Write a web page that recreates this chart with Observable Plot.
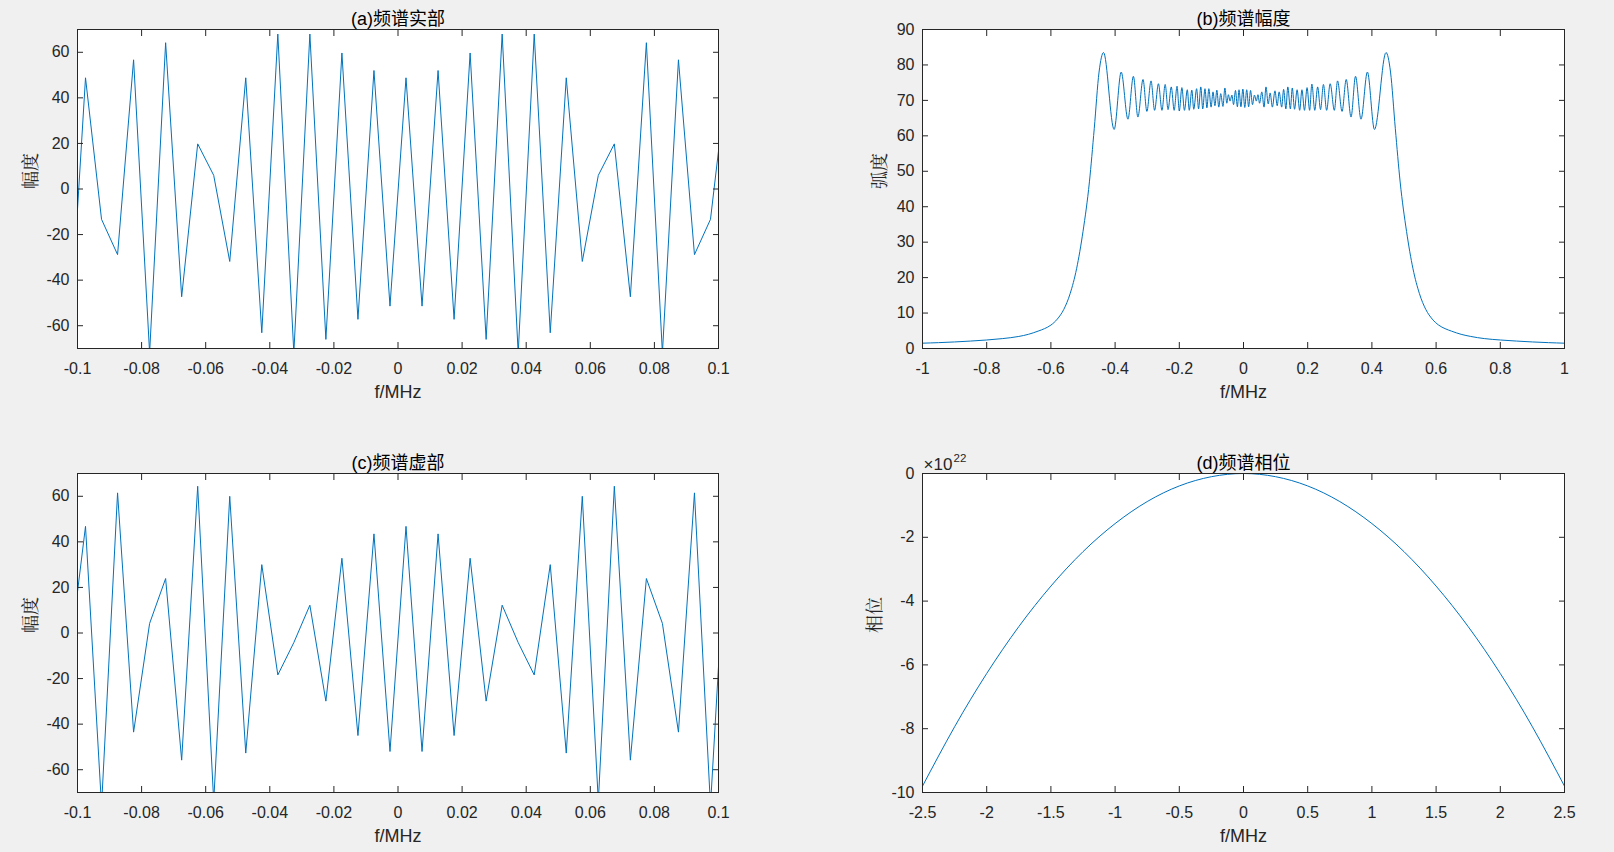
<!DOCTYPE html>
<html>
<head>
<meta charset="utf-8">
<script src="https://cdn.jsdelivr.net/npm/d3@7"></script>
<script src="https://cdn.jsdelivr.net/npm/@observablehq/plot@0.6"></script>
<style>
  html, body { margin: 0; padding: 0; background: #f0f0f0; }
  #fig { position: relative; width: 1614px; height: 852px; background: #f0f0f0; overflow: hidden; }
</style>
</head>
<body>
<div id="fig"></div>
<script>
// ---------- data ----------
// (a) real part and (c) imaginary part: sample frequencies (MHz)
const sampleFreq = [-0.1025, -0.0975, -0.0925, -0.0875, -0.0825, -0.0775, -0.0725, -0.0675, -0.0625, -0.0575,
  -0.0525, -0.0475, -0.0425, -0.0375, -0.0325, -0.0275, -0.0225, -0.0175, -0.0125, -0.0075, -0.0025,
  0.0025, 0.0075, 0.0125, 0.0175, 0.0225, 0.0275, 0.0325, 0.0375, 0.0425, 0.0475, 0.0525,
  0.0575, 0.0625, 0.0675, 0.0725, 0.0775, 0.0825, 0.0875, 0.0925, 0.0975, 0.1025];
const realPart = [-66.6, 48.8, -13.3, -28.8, 56.7, -72, 64.2, -47.3, 19.8, 6.0,
  -31.8, 48.8, -63.1, 68.0, -72, 68.0, -66.0, 59.7, -57.2, 52.0, -51.4,
  48.8, -51.4, 52.0, -57.2, 59.7, -66.0, 68.0, -72, 68.0, -63.1, 48.8,
  -31.8, 6.0, 19.8, -47.3, 64.2, -72, 56.7, -28.8, -13.3, 46.7];
const imagPart = [-10.6, 46.8, -76, 61.5, -43.5, 4.2, 23.9, -55.8, 64.4, -74,
  60.0, -52.7, 30.0, -18.4, -4.2, 12.2, -29.9, 32.8, -45.0, 43.5, -52.0,
  46.8, -52.0, 43.5, -45.0, 32.8, -29.9, 12.2, -4.2, -18.4, 30.0, -52.7,
  60.0, -74, 64.4, -55.8, 23.9, 4.2, -43.5, 61.5, -76, 46.8];

// (b) magnitude: frequencies (MHz) and values read along the tails and at the ripple extremes
const magFreq = [-1, -0.95, -0.9, -0.85, -0.8, -0.75, -0.7, -0.67, -0.64, -0.62, -0.6, -0.58, -0.56, -0.54,
  -0.52, -0.5, -0.48, -0.465, -0.45, -0.436,
  -0.403, -0.381, -0.360, -0.343, -0.329, -0.313, -0.301, -0.288, -0.277, -0.265, -0.254, -0.244, -0.235,
  -0.225, -0.216, -0.207, -0.200, -0.192, -0.184, -0.175, -0.169, -0.161, -0.155, -0.146, -0.140, -0.133,
  -0.127, -0.120, -0.114, -0.108, -0.101, -0.095, -0.089, -0.083, -0.077, -0.071, -0.064, -0.058, -0.052,
  -0.047, -0.042, -0.036, -0.031, -0.025, -0.019, -0.014, -0.008, -0.002, 0.004, 0.010, 0.016, 0.022,
  0.028, 0.034, 0.040, 0.045, 0.050, 0.057, 0.064, 0.070, 0.077, 0.083, 0.090, 0.098, 0.105, 0.111,
  0.119, 0.125, 0.132, 0.138, 0.146, 0.152, 0.159, 0.167, 0.175, 0.182, 0.190, 0.198, 0.206, 0.213,
  0.222, 0.231, 0.240, 0.249, 0.259, 0.270, 0.283, 0.293, 0.307, 0.320, 0.335, 0.349, 0.366, 0.386,
  0.408, 0.444, 0.458, 0.473, 0.488, 0.508, 0.528, 0.548, 0.568, 0.588, 0.608, 0.628, 0.648, 0.678,
  0.708, 0.75, 0.8, 0.85, 0.9, 0.95, 1];
const magValue = [1.5, 1.65, 1.85, 2.1, 2.4, 2.8, 3.4, 4.0, 4.9, 5.6, 6.6, 8.3, 11.0, 15.5,
  22.5, 33.0, 47.0, 62.0, 78.0, 83.5,
  61.8, 78.0, 64.7, 76.8, 65.3, 75.9, 66.9, 75.5, 67.2, 74.7, 67.2, 74.5, 67.4,
  73.8, 67.2, 74.0, 67.0, 73.6, 67.2, 73.0, 67.2, 72.9, 67.5, 73.3, 67.6, 73.8,
  67.6, 73.3, 67.9, 73.3, 68.1, 72.4, 68.5, 72.9, 68.1, 71.9, 68.3, 73.5, 69.2,
  71.6, 69.8, 71.5, 68.8, 72.8, 68.2, 73.0, 68.2, 73.2, 68.0, 73.0, 68.2, 72.8,
  68.8, 71.5, 69.8, 71.6, 69.2, 72.4, 68.1, 73.8, 69.0, 72.1, 68.1, 72.7, 68.5, 72.4,
  68.1, 73.1, 67.6, 73.8, 67.6, 73.5, 67.5, 73.0, 67.2, 73.0, 67.2, 73.6, 67.2, 74.6,
  67.2, 73.8, 67.4, 74.5, 67.2, 74.7, 67.2, 75.5, 66.9, 75.9, 65.3, 76.8, 64.7, 78.0,
  61.8, 83.5, 78.0, 62.0, 47.0, 33.0, 22.5, 15.5, 11.0, 8.3, 6.6, 5.6, 4.9, 4.0,
  3.4, 2.8, 2.4, 2.1, 1.85, 1.65, 1.5];

// (d) phase, in units of 1e22
const phaseFreq = [-2.5, -2.25, -2, -1.75, -1.5, -1.25, -1, -0.75, -0.5, -0.25, 0,
  0.25, 0.5, 0.75, 1, 1.25, 1.5, 1.75, 2, 2.25, 2.5];
const phaseE22 = [-9.8, -7.94, -6.27, -4.80, -3.53, -2.45, -1.57, -0.88, -0.39, -0.10, 0,
  -0.10, -0.39, -0.88, -1.57, -2.45, -3.53, -4.80, -6.27, -7.94, -9.8];

// tick values
const ticksNarrowX = [-0.1, -0.08, -0.06, -0.04, -0.02, 0, 0.02, 0.04, 0.06, 0.08, 0.1];
const ticksAmpY = [-60, -40, -20, 0, 20, 40, 60];
const ticksMagX = [-1, -0.8, -0.6, -0.4, -0.2, 0, 0.2, 0.4, 0.6, 0.8, 1];
const ticksMagY = [0, 10, 20, 30, 40, 50, 60, 70, 80, 90];
const ticksPhaseX = [-2.5, -2, -1.5, -1, -0.5, 0, 0.5, 1, 1.5, 2, 2.5];
const ticksPhaseY = [-10, -8, -6, -4, -2, 0];

const titles = ["(a)频谱实部", "(b)频谱幅度", "(c)频谱虚部", "(d)频谱相位"];
const yLabels = ["幅度", "弧度", "幅度", "相位"];
const xLabel = "f/MHz";

// ---------- drawing ----------
const BLUE = "#0072BD";
const DARK = "#262626";
const LATIN = "'Liberation Sans', Arial, Helvetica, sans-serif";
const MIXED = "'Liberation Sans', Arial, 'Noto Sans CJK SC', sans-serif";
const CJK = "'Noto Serif CJK SC', 'Noto Sans CJK SC', serif";
const fmt = d => String(+(+d).toFixed(6));
const zip = (xs, ys) => xs.map((x, i) => ({x, y: ys[i]}));

function panel({left, top, width, height, mL, mT, mR, mB, xDomain, yDomain, xTicks, yTicks,
                data, curve, title, ylabel, ylabelDx, extra = []}) {
  return Plot.plot({
    width, height,
    marginLeft: mL, marginTop: mT, marginRight: mR, marginBottom: mB,
    x: {domain: xDomain},
    y: {domain: yDomain},
    style: {position: "absolute", left: left + "px", top: top + "px",
            background: "transparent", overflow: "visible", color: DARK,
            fontFamily: LATIN, fontSize: "16px"},
    marks: [
      Plot.frame({fill: "white", stroke: null}),
      Plot.line(data, {x: "x", y: "y", stroke: BLUE, strokeWidth: 1, curve, clip: true}),
      Plot.frame({stroke: DARK, strokeWidth: 1}),
      Plot.axisX(xTicks, {anchor: "bottom", tickSize: -6, fill: null, stroke: DARK, label: null}),
      Plot.axisX(xTicks, {anchor: "top", tickSize: -6, fill: null, stroke: DARK, label: null}),
      Plot.axisY(yTicks, {anchor: "left", tickSize: -6, fill: null, stroke: DARK, label: null}),
      Plot.axisY(yTicks, {anchor: "right", tickSize: -6, fill: null, stroke: DARK, label: null}),
      Plot.axisX(xTicks, {anchor: "bottom", tickSize: 0, tickPadding: 14.5, tickFormat: fmt,
                          fill: DARK, fontSize: 16, fontFamily: LATIN, label: null}),
      Plot.axisY(yTicks, {anchor: "left", tickSize: 0, tickPadding: 8, tickFormat: fmt,
                          fill: DARK, fontSize: 16, fontFamily: LATIN, label: null}),
      Plot.text([title], {text: d => d, frameAnchor: "top", dy: -5, lineAnchor: "bottom",
                          fontSize: 18, fontWeight: 400, fontFamily: MIXED, fill: "#000"}),
      Plot.text([xLabel], {text: d => d, frameAnchor: "bottom", dy: 49, lineAnchor: "bottom",
                           fontSize: 18, fontFamily: LATIN, fill: DARK}),
      Plot.text([ylabel], {text: d => d, frameAnchor: "left", dx: ylabelDx, rotate: -90,
                           lineAnchor: "middle", fontSize: 18, fontFamily: CJK, fill: DARK}),
      ...extra
    ]
  });
}

const fig = document.getElementById("fig");

fig.appendChild(panel({
  left: 0, top: 0, width: 800, height: 426, mL: 77, mT: 29, mR: 82, mB: 78,
  xDomain: [-0.1, 0.1], yDomain: [-70, 70], xTicks: ticksNarrowX, yTicks: ticksAmpY,
  data: zip(sampleFreq, realPart), curve: "linear",
  title: titles[0], ylabel: yLabels[0], ylabelDx: -46
}));

fig.appendChild(panel({
  left: 800, top: 0, width: 814, height: 426, mL: 122, mT: 29, mR: 50, mB: 78,
  xDomain: [-1, 1], yDomain: [0, 90], xTicks: ticksMagX, yTicks: ticksMagY,
  data: zip(magFreq, magValue), curve: "monotone-x",
  title: titles[1], ylabel: yLabels[1], ylabelDx: -42
}));

fig.appendChild(panel({
  left: 0, top: 426, width: 800, height: 426, mL: 77, mT: 47, mR: 82, mB: 60,
  xDomain: [-0.1, 0.1], yDomain: [-70, 70], xTicks: ticksNarrowX, yTicks: ticksAmpY,
  data: zip(sampleFreq, imagPart), curve: "linear",
  title: titles[2], ylabel: yLabels[2], ylabelDx: -46
}));

fig.appendChild(panel({
  left: 800, top: 426, width: 814, height: 426, mL: 122, mT: 47, mR: 50, mB: 60,
  xDomain: [-2.5, 2.5], yDomain: [-10, 0], xTicks: ticksPhaseX, yTicks: ticksPhaseY,
  data: zip(phaseFreq, phaseE22), curve: "natural",
  title: titles[3], ylabel: yLabels[3], ylabelDx: -47,
  extra: [
    Plot.text(["×10"], {text: d => d, frameAnchor: "top-left", textAnchor: "start", lineAnchor: "bottom",
                        dx: 1, dy: -4, fontSize: 17, fontFamily: LATIN, fill: DARK}),
    Plot.text(["22"], {text: d => d, frameAnchor: "top-left", textAnchor: "start", lineAnchor: "bottom",
                       dx: 31, dy: -12, fontSize: 11.5, fontFamily: LATIN, fill: DARK})
  ]
}));
</script>
</body>
</html>
